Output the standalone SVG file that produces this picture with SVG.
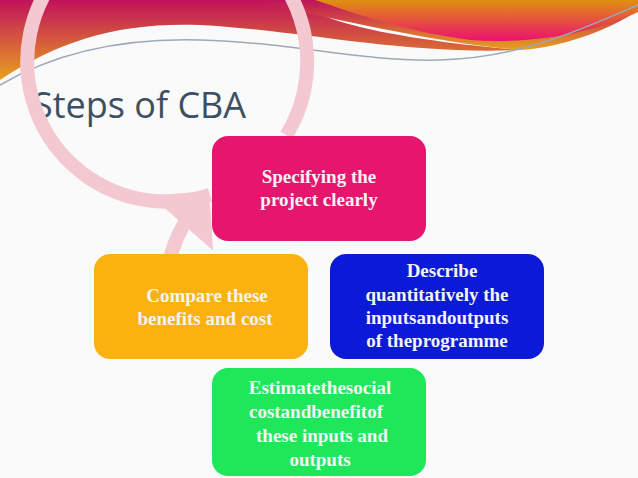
<svg xmlns="http://www.w3.org/2000/svg" width="638" height="478" viewBox="0 0 638 478">
<defs>
<linearGradient id="g1" x1="0" y1="0" x2="0" y2="1"><stop offset="0" stop-color="#c0125a"/><stop offset="1" stop-color="#e8a020"/></linearGradient>
<linearGradient id="g2" x1="0" y1="0" x2="0" y2="1"><stop offset="0" stop-color="#e09010"/><stop offset="1" stop-color="#ec1070"/></linearGradient>
<marker id="ah" markerWidth="6" markerHeight="6" refX="2" refY="3" orient="auto" markerUnits="strokeWidth"><path d="M0,0 L3,3 L0,6 Z" fill="#f4c8d0"/></marker>
<style>
.box text{font-family:"Liberation Serif",serif;font-weight:bold;font-size:19px;fill:#f4f4f4;text-anchor:middle}
</style>
</defs>
<rect width="638" height="478" fill="#fafafa"/>
<path d="M0,0 H300 L310,10 C330,20 380,38 520,50 C400,55 300,30 200,25 C120,22 60,40 0,80 Z" fill="url(#g1)"/>
<path d="M250,0 C380,30 460,45 520,50 C560,48 610,30 638,10 V0 Z" fill="url(#g1)"/>
<path d="M315,0 C360,15 400,30 470,40 C540,45 600,30 638,12 V0 Z" fill="url(#g2)"/>
<path d="M0,85 C60,50 130,38 200,40 C290,42 360,62 440,60 C520,58 580,30 638,5" fill="none" stroke="#9ab" stroke-width="1.5"/>
<text x="33" y="118" font-family="Open Sans,Liberation Sans,sans-serif" font-size="36" fill="#3d4f63">Steps of CBA</text>
<g id="connectors">
<path d="M 210,195 A 140 140 0 1 1 213,194" fill="none" stroke="#f4c8d0" stroke-width="14" stroke-dasharray="780 200" stroke-dashoffset="0"/>
<path d="M 170,258 A 140 140 0 0 1 200,202" fill="none" stroke="#f4c8d0" stroke-width="14" marker-end="url(#ah)"/>
</g>
<g id="n1" class="box"><rect x="212" y="136" width="214" height="105" rx="16" fill="#e6166e"/><text x="319" y="183">Specifying the</text><text x="319" y="206">project clearly</text></g>
<g id="n2" class="box"><rect x="330" y="254" width="214" height="105" rx="16" fill="#0b1ad6"/><text x="442" y="277">Describe</text><text x="437" y="301">quantitatively the</text><text x="437" y="324">inputsandoutputs</text><text x="437" y="347">of theprogramme</text></g>
<g id="n3" class="box"><rect x="212" y="368" width="214" height="108" rx="16" fill="#1ee85a"/><text x="320" y="394">Estimatethesocial</text><text x="316" y="418">costandbenefitof </text><text x="322" y="442">these  inputs and</text><text x="320" y="466">outputs</text></g>
<g id="n4" class="box"><rect x="94" y="254" width="214" height="105" rx="16" fill="#fbb20e"/><text x="207" y="302">Compare these</text><text x="205" y="325">benefits and cost</text></g>
</svg>
